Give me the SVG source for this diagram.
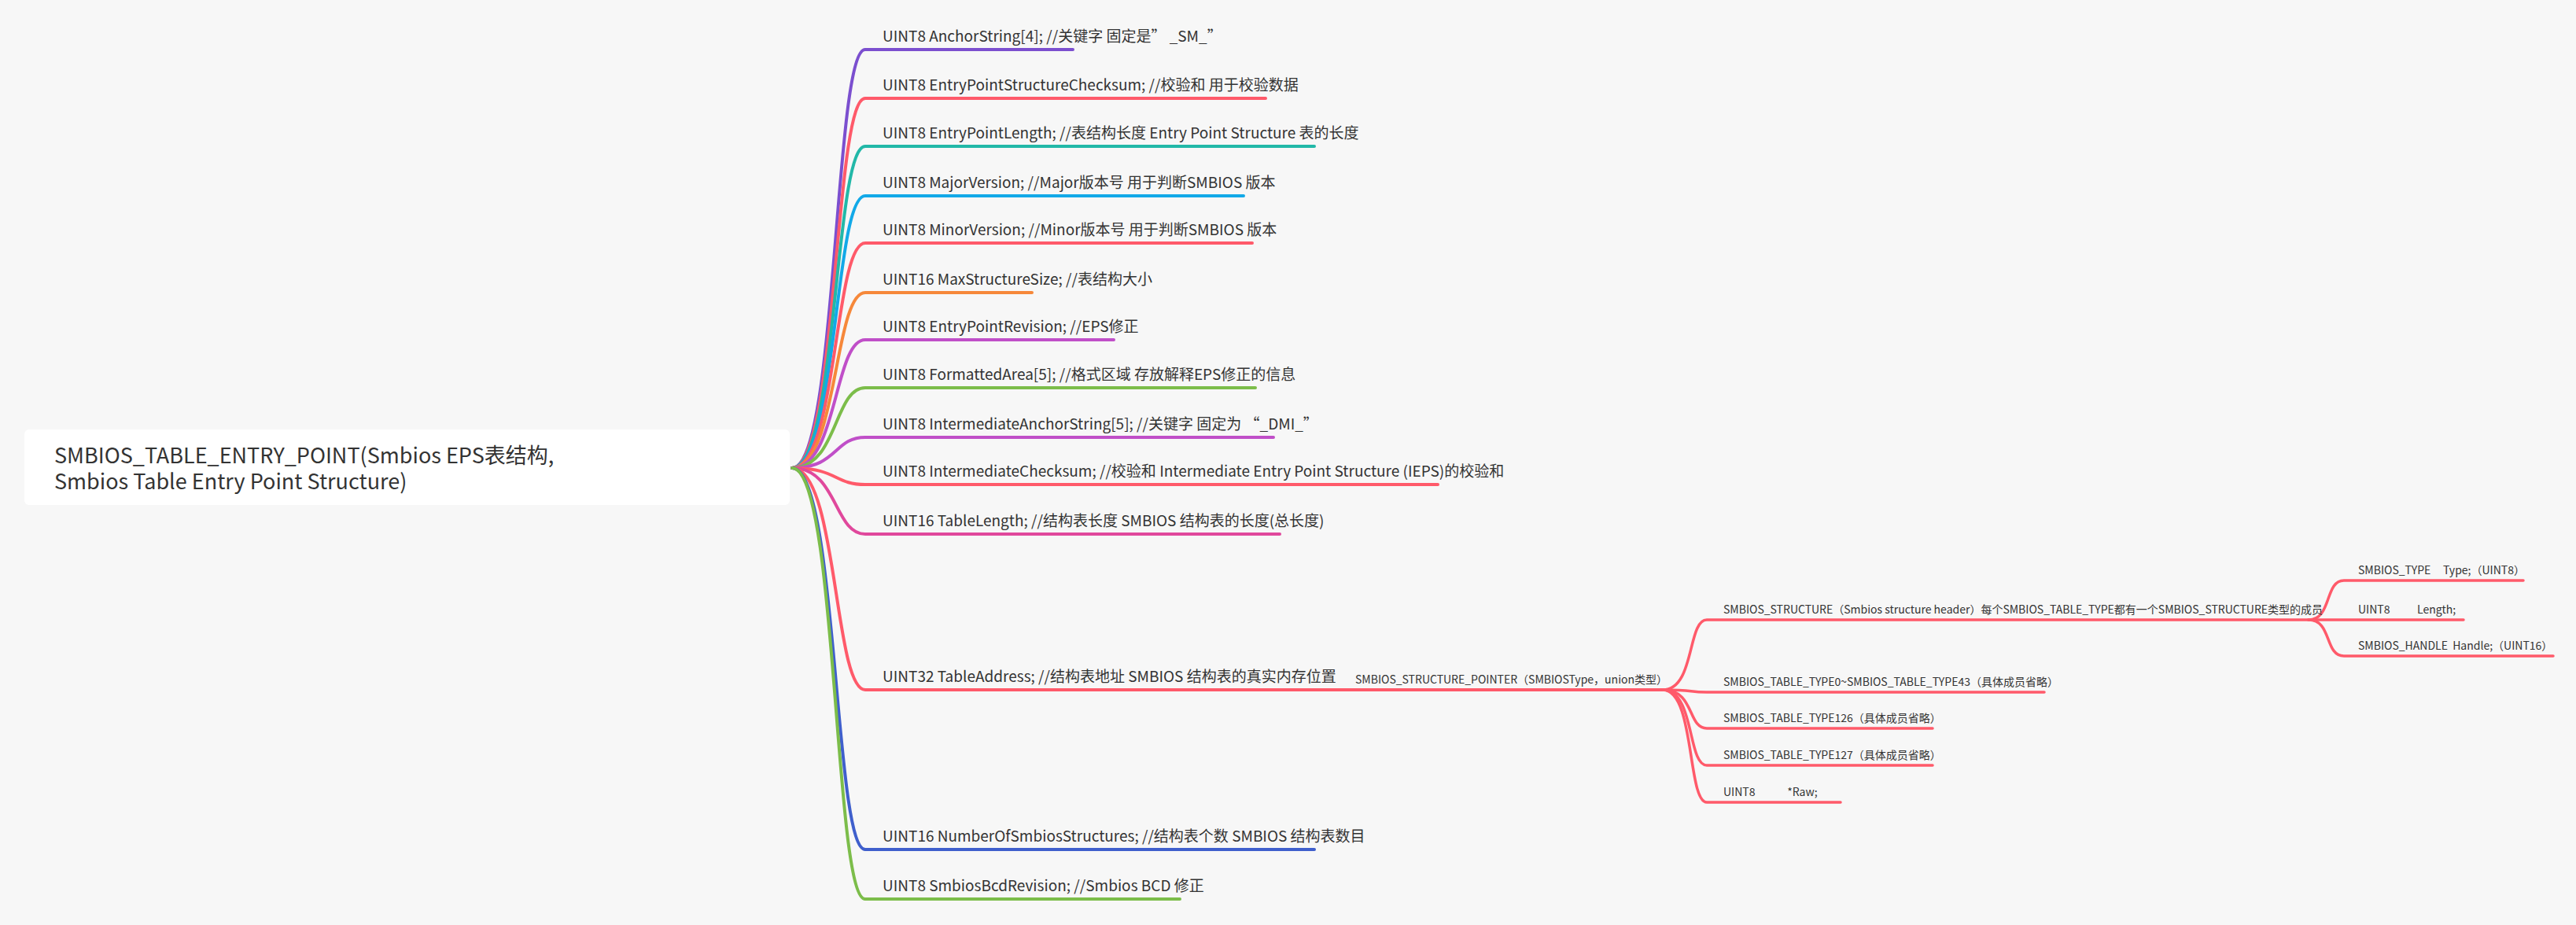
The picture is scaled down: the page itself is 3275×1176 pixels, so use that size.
<svg xmlns="http://www.w3.org/2000/svg" width="3275" height="1176" viewBox="0 0 3275 1176">
<style>
.t{font-family:"Noto Sans CJK SC","Liberation Sans",sans-serif;font-size:19px;fill:#333}
.s{font-family:"Noto Sans CJK SC","Liberation Sans",sans-serif;font-size:14px;fill:#333}
.r{font-family:"Noto Sans CJK SC","Liberation Sans",sans-serif;font-size:27px;fill:#333}
path{fill:none;stroke-width:4;stroke-linecap:round}
.sub path{stroke:#ff5a6a;stroke-width:3.5}
</style>
<rect width="3275" height="1176" fill="#f7f7f7"/>
<g id="connectors">
<path stroke="#7b4fcf" d="M1007,595 C1065,595 1060,63 1100,63 L1364,63"/>
<path stroke="#ff5a6a" d="M1007,595 C1065,595 1060,125 1100,125 L1609,125"/>
<path stroke="#22b8a8" d="M1007,595 C1065,595 1060,186 1100,186 L1671,186"/>
<path stroke="#12a9e8" d="M1007,595 C1065,595 1060,249 1100,249 L1581,249"/>
<path stroke="#ff5a6a" d="M1007,595 C1065,595 1060,309 1100,309 L1592,309"/>
<path stroke="#f6883a" d="M1007,595 C1065,595 1060,372 1100,372 L1312,372"/>
<path stroke="#c04fc8" d="M1007,595 C1065,595 1060,432 1100,432 L1416,432"/>
<path stroke="#7cbd4a" d="M1007,595 C1065,595 1060,493 1100,493 L1596,493"/>
<path stroke="#c04fc8" d="M1007,595 C1065,595 1060,556 1100,556 L1619,556"/>
<path stroke="#ff5a6a" d="M1007,595 C1065,595 1060,616 1100,616 L1828,616"/>
<path stroke="#e0489c" d="M1007,595 C1065,595 1060,679 1100,679 L1627,679"/>
<path stroke="#ff5a6a" d="M1007,595 C1065,595 1060,877 1100,877 L2114,877"/>
<path stroke="#3f5fcc" d="M1007,595 C1065,595 1060,1080 1100,1080 L1671,1080"/>
<path stroke="#7cbd4a" d="M1007,595 C1065,595 1060,1143 1100,1143 L1500,1143"/>
<g class="sub">
<path d="M2114,877 C2155,877 2145,788 2170,788 L2935,788"/>
<path d="M2114,877 C2155,877 2145,880 2170,880 L2599,880"/>
<path d="M2114,877 C2155,877 2145,926 2170,926 L2457,926"/>
<path d="M2114,877 C2155,877 2145,973 2170,973 L2457,973"/>
<path d="M2114,877 C2155,877 2145,1020 2170,1020 L2340,1020"/>
<path d="M2935,788 C2965,788 2955,738 2980,738 L3208,738"/>
<path d="M2935,788 C2965,788 2955,788 2980,788 L3132,788"/>
<path d="M2935,788 C2965,788 2955,834 2980,834 L3246,834"/>
</g>
</g>
<g id="root">
<rect x="31" y="546" width="973" height="96" rx="6" fill="#fff"/>
<text class="r" x="69" y="589">SMBIOS_TABLE_ENTRY_POINT(Smbios EPS表结构,</text>
<text class="r" x="69" y="622">Smbios Table Entry Point Structure)</text>
</g>
<g id="n1"><text class="t" x="1122" y="53">UINT8   AnchorString[4]; //关键字 固定是” _SM_”</text></g>
<g id="n2"><text class="t" x="1122" y="115">UINT8   EntryPointStructureChecksum; //校验和  用于校验数据</text></g>
<g id="n3"><text class="t" x="1122" y="176">UINT8   EntryPointLength; //表结构长度  Entry Point Structure 表的长度</text></g>
<g id="n4"><text class="t" x="1122" y="239">UINT8   MajorVersion; //Major版本号  用于判断SMBIOS 版本</text></g>
<g id="n5"><text class="t" x="1122" y="299">UINT8   MinorVersion; //Minor版本号  用于判断SMBIOS 版本</text></g>
<g id="n6"><text class="t" x="1122" y="362">UINT16  MaxStructureSize; //表结构大小</text></g>
<g id="n7"><text class="t" x="1122" y="422">UINT8   EntryPointRevision; //EPS修正</text></g>
<g id="n8"><text class="t" x="1122" y="483">UINT8   FormattedArea[5]; //格式区域 存放解释EPS修正的信息</text></g>
<g id="n9"><text class="t" x="1122" y="546">UINT8   IntermediateAnchorString[5]; //关键字 固定为 “_DMI_”</text></g>
<g id="n10"><text class="t" x="1122" y="606">UINT8   IntermediateChecksum; //校验和 Intermediate Entry Point Structure (IEPS)的校验和</text></g>
<g id="n11"><text class="t" x="1122" y="669">UINT16  TableLength; //结构表长度 SMBIOS 结构表的长度(总长度)</text></g>
<g id="n12"><text class="t" x="1122" y="867">UINT32  TableAddress; //结构表地址 SMBIOS 结构表的真实内存位置</text></g>
<g id="n13"><text class="t" x="1122" y="1070">UINT16  NumberOfSmbiosStructures; //结构表个数 SMBIOS 结构表数目</text></g>
<g id="n14"><text class="t" x="1122" y="1133">UINT8   SmbiosBcdRevision; //Smbios BCD 修正</text></g>
<g id="p"><text class="s" x="1723" y="869">SMBIOS_STRUCTURE_POINTER（SMBIOSType，union类型）</text></g>
<g id="p1"><text class="s" x="2191" y="780">SMBIOS_STRUCTURE（Smbios structure header）每个SMBIOS_TABLE_TYPE都有一个SMBIOS_STRUCTURE类型的成员</text></g>
<g id="p2"><text class="s" x="2191" y="872">SMBIOS_TABLE_TYPE0~SMBIOS_TABLE_TYPE43（具体成员省略）</text></g>
<g id="p3"><text class="s" x="2191" y="918">SMBIOS_TABLE_TYPE126（具体成员省略）</text></g>
<g id="p4"><text class="s" x="2191" y="965">SMBIOS_TABLE_TYPE127（具体成员省略）</text></g>
<g id="p5"><text class="s" x="2191" y="1012" xml:space="preserve">UINT8             *Raw;</text></g>
<g id="q1"><text class="s" x="2998" y="730" xml:space="preserve">SMBIOS_TYPE     Type;（UINT8）</text></g>
<g id="q2"><text class="s" x="2998" y="780" xml:space="preserve">UINT8           Length;</text></g>
<g id="q3"><text class="s" x="2998" y="826" xml:space="preserve">SMBIOS_HANDLE  Handle;（UINT16）</text></g>
</svg>
